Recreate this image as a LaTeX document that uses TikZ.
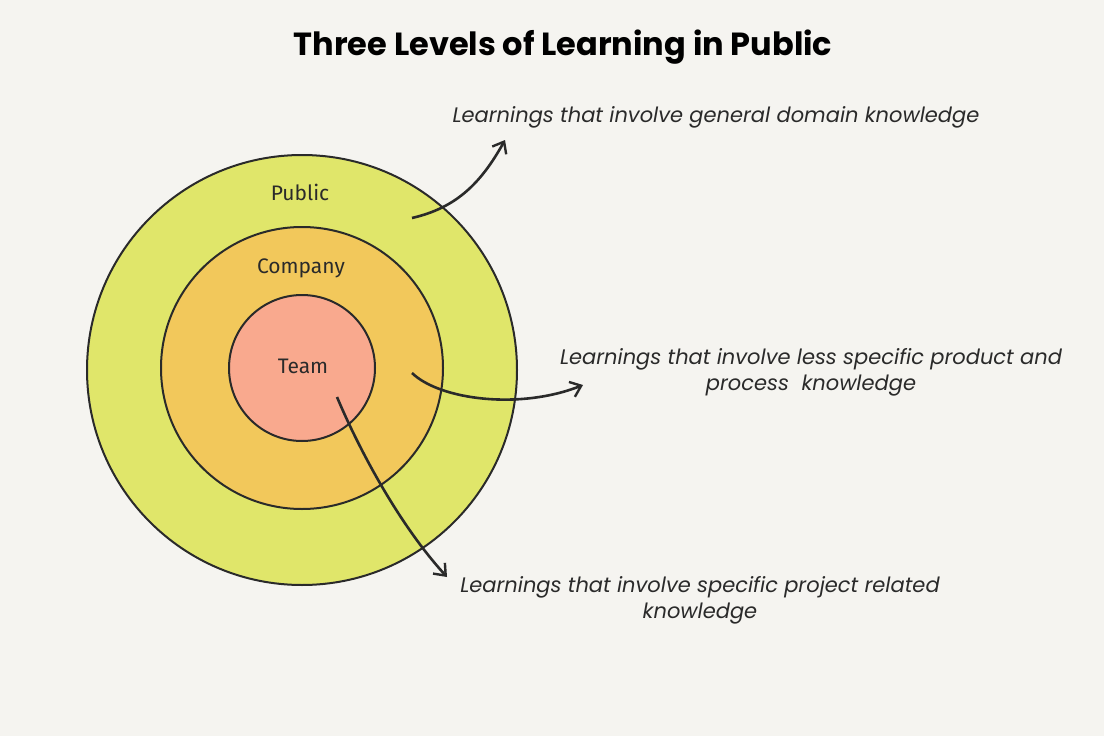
\documentclass[tikz,border=0pt]{standalone}
\usepackage{fontspec}
\setmainfont{Poppins}
\newfontfamily\handfont{Fira Sans}
\usetikzlibrary{arrows.meta}
\definecolor{bg}{HTML}{F5F4F0}
\definecolor{outerc}{HTML}{E0E66A}
\definecolor{midc}{HTML}{F2C85B}
\definecolor{innerc}{HTML}{F9A98E}
\definecolor{ink}{HTML}{2A2A2A}
\tikzset{ring/.style={draw=ink,line width=2pt},
lbl/.style={font=\fontsize{21}{26}\selectfont\itshape,text=ink,align=center},
hand/.style={font=\handfont\fontsize{21}{24}\selectfont,text=ink},
arr/.style={draw=ink,line width=2.6pt,-{Straight Barb[length=10pt,width=16pt,line width=2.4pt]}}}
\begin{document}
\begin{tikzpicture}[x=1pt,y=-1pt]
\fill[bg] (0,0) rectangle (1104,736);
\useasboundingbox (0,0) rectangle (1104,736);
\node[font=\fontsize{32}{36}\selectfont\bfseries,text=black] (title) at (563,47) {Three Levels of Learning in Public};
\draw[ring,fill=outerc] (302,370) circle (215);
\draw[ring,fill=midc] (302,368) circle (141);
\draw[ring,fill=innerc] (302,368) circle (73);
\node[hand] (pub) at (300,192) {Public};
\node[hand] (comp) at (301,268) {Company};
\node[hand] (team) at (303,366) {Team};
\coordinate (a1s) at (412,218); \coordinate (a1e) at (505,140);
\coordinate (a2s) at (412,373); \coordinate (a2e) at (583,385);
\coordinate (a3s) at (337,397); \coordinate (a3e) at (447,577);
\draw[arr] (a1s) .. controls (455,208) and (480,185) .. (a1e);
\draw[arr] (a2s) .. controls (440,400) and (520,410) .. (a2e);
\draw[arr] (a3s) .. controls (355,440) and (395,520) .. (a3e);
\node[lbl] (t1) at (716,117) {Learnings that involve general domain knowledge};
\node[lbl] (t2) at (811,372) {Learnings that involve less specific product and\\process\ \ knowledge};
\node[lbl] (t3) at (700,600) {Learnings that involve specific project related\\knowledge};
\end{tikzpicture}
\end{document}
